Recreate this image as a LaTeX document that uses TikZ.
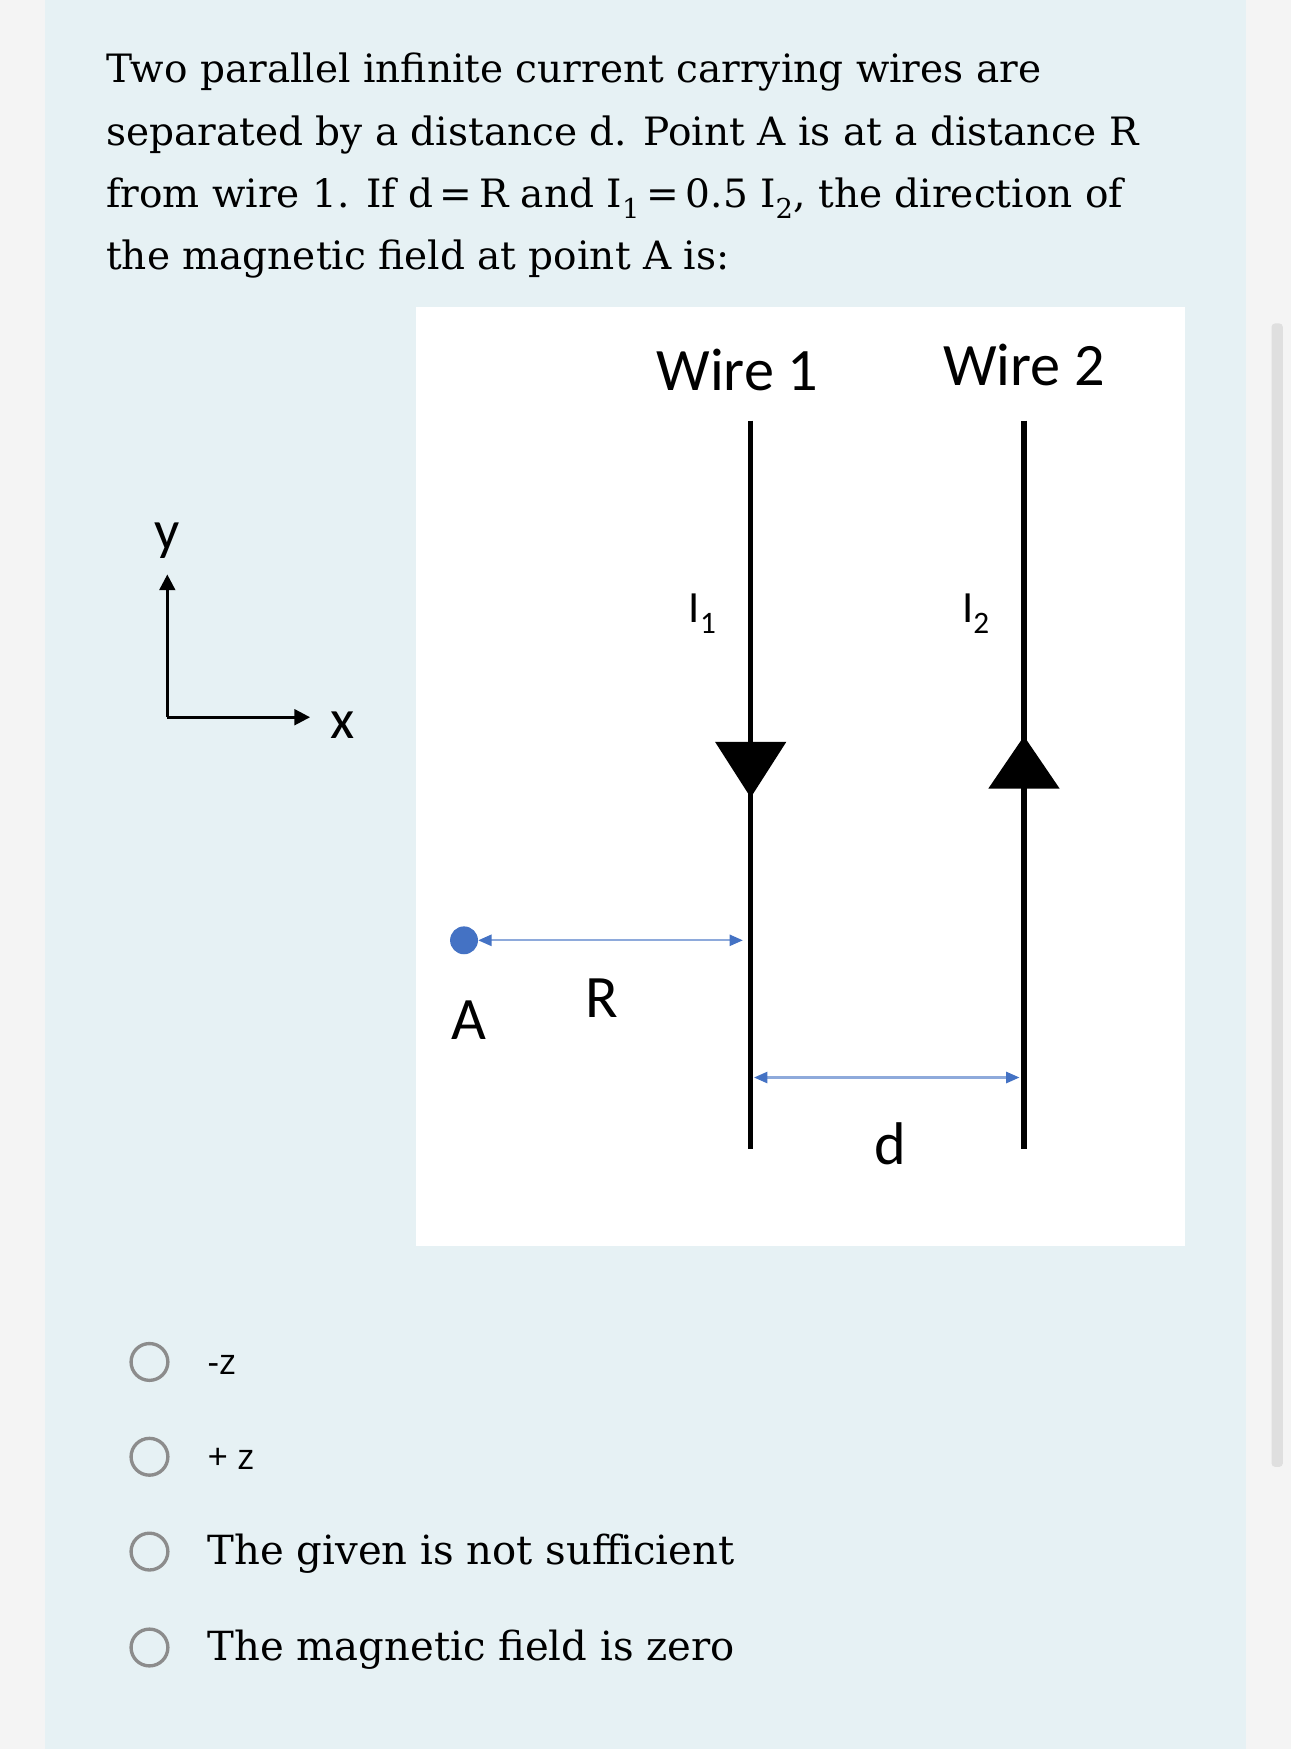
\documentclass[tikz,border=0pt]{standalone}
\usepackage{fontspec}
\setmainfont{DejaVu Serif}
\newfontfamily\calfont{Carlito}
\newfontfamily\osans{Open Sans}
\usetikzlibrary{arrows.meta}
\definecolor{panel}{HTML}{E6F1F4}
\definecolor{outer}{HTML}{F4F4F4}
\definecolor{ablue}{HTML}{4472C4}
\definecolor{lblue}{HTML}{8EAADB}
\begin{document}
\begin{tikzpicture}[x=1pt,y=-1pt,
  q/.style={anchor=base west,inner sep=0,font=\fontsize{35}{40}\selectfont},
  lab/.style={inner sep=0,font=\calfont\fontsize{54}{60}\selectfont},
  wire/.style={line width=5pt},
  radio/.style={circle,draw=gray!90,line width=3pt,minimum size=33pt,inner sep=0},
  opt/.style={anchor=base west,inner sep=0,font=\fontsize{36}{40}\selectfont},
  dim/.style={lblue,line width=2pt,{Triangle[length=12pt,width=10pt,fill=ablue,color=ablue]}-{Triangle[length=12pt,width=10pt,fill=ablue,color=ablue]}}]
\useasboundingbox (0,0) rectangle (1157,1568);
\fill[outer] (0,0) rectangle (1157,1568);
\fill[panel] (40,0) rectangle (1117,1568);
\fill[gray!25,rounded corners=3pt] (1140,290) rectangle (1150,1315);
\node[q] (t1) at (95,74) {Two parallel infinite current carrying wires are};
\node[q] (t2) at (95,130) {separated by a distance d. Point A is at a distance R};
\node[q] (t3) at (95,186) {from wire 1. If d{\,}={\,}R and I\textsubscript{1}{\,}={\,}0.5 I\textsubscript{2}, the direction of};
\node[q] (t4) at (95,242) {the magnetic field at point A is:};
\fill[white] (373,275) rectangle (1062,1117);
\node[lab] (w1) at (661,332) {Wire 1};
\node[lab] (w2) at (918,327) {Wire 2};
\coordinate (w1t) at (673,377); \coordinate (w1b) at (673,1030);
\coordinate (w2t) at (918,377); \coordinate (w2b) at (918,1030);
\draw[wire] (w1t) -- (w1b);
\draw[wire] (w2t) -- (w2b);
\fill (641,665) -- (705,665) -- (673,715) -- cycle;
\fill (886,707) -- (950,707) -- (918,660) -- cycle;
\node[lab,font=\calfont\fontsize{40}{44}\selectfont] (i1) at (630,550) {I\textsubscript{1}};
\node[lab,font=\calfont\fontsize{40}{44}\selectfont] (i2) at (875,550) {I\textsubscript{2}};
\node[circle,fill=ablue,inner sep=0,minimum size=25pt] (A) at (416,843) {};
\coordinate (ar) at (666,843);
\draw[dim] (A.east) -- (ar);
\node[lab] (Al) at (420,915) {A};
\node[lab] (Rl) at (540,895) {R};
\coordinate (d1) at (676,966); \coordinate (d2) at (914,966);
\draw[dim] (d1) -- (d2);
\node[lab] (dl) at (798,1025) {d};
\coordinate (o) at (150,643);
\coordinate (yt) at (150,515); \coordinate (xt) at (278,643);
\draw[line width=2.5pt,-{Triangle[length=14pt,width=14pt]}] (o) -- (yt);
\draw[line width=2.5pt,-{Triangle[length=14pt,width=14pt]}] (o) -- (xt);
\node[lab,font=\calfont\fontsize{50}{54}\selectfont] (yl) at (150,485) {y};
\node[lab,font=\calfont\fontsize{50}{54}\selectfont] (xl) at (307,650) {x};
\foreach \n/\y in {r1/1221,r2/1306,r3/1391,r4/1477}{\node[radio] (\n) at (134,\y) {};}
\node[opt,font=\osans\fontsize{32}{36}\selectfont] (o1) at (186,1232) {-z};
\node[opt,font=\osans\fontsize{32}{36}\selectfont] (o2) at (186,1317) {+ z};
\node[opt] (o3) at (186,1403) {The given is not sufficient};
\node[opt] (o4) at (186,1489) {The magnetic field is zero};
\end{tikzpicture}
\end{document}
